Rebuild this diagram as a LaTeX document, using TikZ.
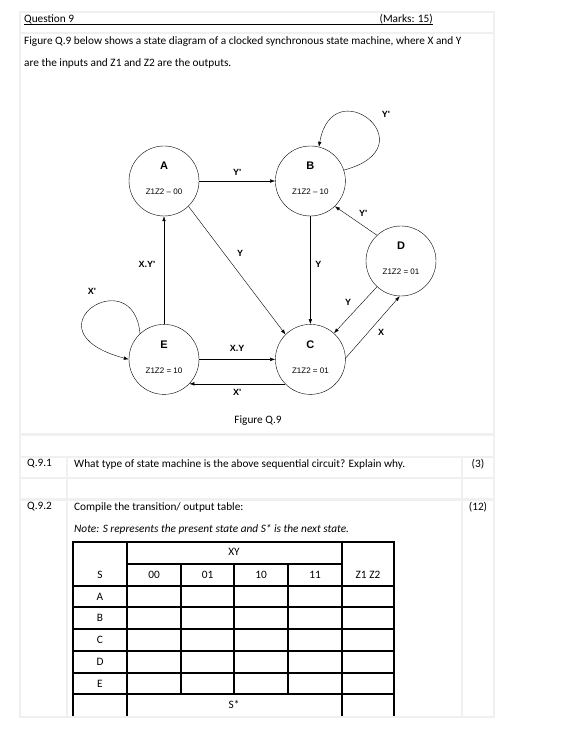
\documentclass[tikz,border=0pt]{standalone}
\usepackage{fontspec}
\setmainfont{Carlito}
\newfontfamily\arialfont{Liberation Sans}
\usetikzlibrary{arrows.meta, positioning, calc}

\begin{document}
\begin{tikzpicture}[
    x=1pt, y=1pt,
    state/.style={circle, draw, thin, minimum size=70pt, inner sep=0pt},
    stname/.style={font=\arialfont\fontsize{11}{12}\selectfont\bfseries, inner sep=0pt},
    stout/.style={font=\arialfont\fontsize{8}{9}\selectfont, inner sep=0pt},
    trans/.style={draw, thin, -{Latex[length=5pt, width=3.5pt]}},
    lbl/.style={font=\arialfont\fontsize{9}{10}\selectfont\bfseries, inner sep=0pt},
    body/.style={font=\fontsize{11.3}{13}\selectfont, inner sep=0pt, anchor=west},
    cell/.style={font=\fontsize{11.3}{13}\selectfont, inner sep=0pt},
    sepline/.style={draw=gray!12, line width=2.5pt},
    tabline/.style={draw=black, line width=1.2pt}
]
    \useasboundingbox (0,0) rectangle (584,736);

    % Page frame and row separators
    \draw [sepline] (20,19) rectangle (494,724);
    \draw [sepline] (20,703) -- (494,703);
    \draw [sepline, line width=3pt] (20,301) -- (494,301);
    \draw [sepline] (20,279) -- (494,279);
    \draw [sepline] (20,258) -- (494,258);
    \draw [sepline, line width=3pt] (20,236) -- (494,236);
    \draw [sepline] (67,279) -- (67,19);
    \draw [sepline] (462,279) -- (462,19);

    % Heading
    \node (qhead) [body] at (24,717) {Question 9};
    \node (marks) [body, anchor=east] at (433,717) {(Marks: 15)};
    \draw [line width=0.8pt] (24,712) -- (433,712);
    \node (intro1) [body] at (24,694) {Figure Q.9 below shows a state diagram of a clocked synchronous state machine, where X and Y};
    \node (intro2) [body] at (24,673) {are the inputs and Z1 and Z2 are the outputs.};

    % States
    \node (A) [state] at (164,555) {};
    \node (B) [state, right=76pt of A] {};
    \node (E) [state, below=108pt of A] {};
    \node (C) [state, right=76pt of E] {};
    \node (D) [state] at (401,475) {};

    \node (Aname) [stname] at ([yshift=15pt]A.center) {A};
    \node (Aout) [stout] at ([yshift=-11pt]A.center) {Z1Z2 – 00};
    \node (Bname) [stname] at ([yshift=15pt]B.center) {B};
    \node (Bout) [stout] at ([yshift=-11pt]B.center) {Z1Z2 – 10};
    \node (Cname) [stname] at ([yshift=15pt]C.center) {C};
    \node (Cout) [stout] at ([yshift=-11pt]C.center) {Z1Z2 = 01};
    \node (Dname) [stname] at ([yshift=15pt]D.center) {D};
    \node (Dout) [stout] at ([yshift=-11pt]D.center) {Z1Z2 = 01};
    \node (Ename) [stname] at ([yshift=15pt]E.center) {E};
    \node (Eout) [stout] at ([yshift=-11pt]E.center) {Z1Z2 = 10};

    % Transitions
    \path [trans] (A) -- node [lbl, yshift=9pt] (yAB) {Y'} (B);
    \path [trans] (E) -- node [lbl, pos=0.55, xshift=-17pt] (xyEA) {X.Y'} (A);
    \path [trans] (B) -- node [lbl, pos=0.45, xshift=8pt] (yBC) {Y} (C);
    \path [trans] (A.-46) -- node [lbl, pos=0.43, shift={(10pt,8pt)}] (yAC) {Y} (C.135);
    \path [trans] (D.133) -- node [lbl, pos=0.47, shift={(6pt,8.7pt)}] (yDB) {Y'} (B.-46);
    \path [trans] (D.227) -- node [lbl, pos=0.49, shift={(-7.7pt,7.3pt)}] (yDC) {Y} (C.48);
    \path [trans] (C.2) -- node [lbl, pos=0.52, shift={(7.3pt,-6.5pt)}] (xCD) {X} (D.-92);
    \path [trans] (E) -- node [lbl, yshift=11pt] (xyEC) {X.Y} (C);
    \path [trans] (C.224) -- node [lbl, yshift=-9pt] (xCE) {X'} (E.-44);

    % Self loops
    \draw [trans] (B.18) .. controls +(15:90) and +(80:80) .. (B.76);
    \node (yBB) [lbl] at (386,622) {Y'};
    \draw [trans] (E.133) .. controls +(95:75) and +(165:110) .. (E.180);
    \node (xEE) [lbl] at (92,445) {X'};

    \node (caption) [cell] at (258,315) {Figure Q.9};

    % Questions
    \node (q91) [body] at (27,272) {Q.9.1};
    \node (q91text) [body] at (74,272) {What type of state machine is the above sequential circuit? Explain why.};
    \node (q91marks) [cell] at (478,272) {(3)};
    \node (q92) [body] at (27,229) {Q.9.2};
    \node (q92text) [body] at (74,229) {Compile the transition/ output table:};
    \node (q92marks) [cell] at (478,229) {(12)};
    \node (note) [body, font=\fontsize{11.3}{13}\selectfont\itshape] at (74,207) {Note: S represents the present state and S* is the next state.};

    % Transition table
    \draw [tabline] (73,20) -- (73,194) -- (394,194) -- (394,20);
    \draw [tabline] (127,20) -- (127,194);
    \draw [tabline] (342,20) -- (342,194);
    \draw [tabline] (127,172) -- (342,172);
    \draw [tabline] (181,172) -- (181,42);
    \draw [tabline] (234,172) -- (234,42);
    \draw [tabline] (288,172) -- (288,42);
    \draw [tabline] (73,150) -- (394,150);
    \draw [tabline] (73,129) -- (394,129);
    \draw [tabline] (73,107) -- (394,107);
    \draw [tabline] (73,85) -- (394,85);
    \draw [tabline] (73,63) -- (394,63);
    \draw [tabline] (73,42) -- (394,42);

    \node (xy) [cell] at (234,184) {XY};
    \node (s) [cell] at (100,161) {S};
    \node (c00) [cell] at (154,161) {00};
    \node (c01) [cell] at (207.5,161) {01};
    \node (c10) [cell] at (261,161) {10};
    \node (c11) [cell] at (315,161) {11};
    \node (z1z2) [cell] at (368,161) {Z1 Z2};
    \node (rA) [cell] at (100,139.5) {A};
    \node (rB) [cell] at (100,118) {B};
    \node (rC) [cell] at (100,96) {C};
    \node (rD) [cell] at (100,74) {D};
    \node (rE) [cell] at (100,52.5) {E};
    \node (snext) [cell] at (234,31) {S*};

\end{tikzpicture}
\end{document}
